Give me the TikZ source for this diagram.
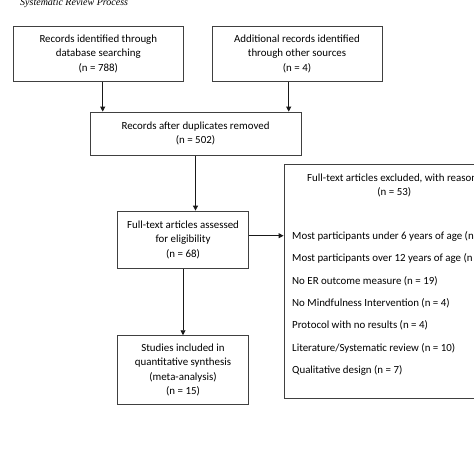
\documentclass[tikz,border=0pt]{standalone}
\usepackage{fontspec}
\setmainfont{Carlito}
\newfontfamily\titlefont{Liberation Serif}
\usetikzlibrary{arrows.meta}
\tikzset{
  box/.style={draw=black!75, line width=0.9pt, align=center, inner sep=0pt,
    font=\fontsize{10.9}{14.4}\selectfont},
  conn/.style={draw=black!90, line width=0.9pt, -{Triangle[length=5pt,width=5pt]}},
  plain/.style={inner sep=0pt, font=\fontsize{10.9}{14.4}\selectfont}
}
\begin{document}
\begin{tikzpicture}[x=1pt,y=-1pt]
\useasboundingbox (0,0) rectangle (474,474);
\clip (0,0) rectangle (474,474);
\fill[white] (0,0) rectangle (474,474);
\node[anchor=base west, inner sep=0pt, font=\titlefont\itshape\fontsize{10}{12}\selectfont] (title) at (20,5.8) {Systematic Review Process};

\node[box, minimum width=170pt, minimum height=55.3pt] (b1) at (98.3,53.7)
  {Records identified through\\database searching\\(n = 788)};
\node[box, minimum width=170pt, minimum height=55.3pt] (b2) at (297,53.7)
  {Additional records identified\\through other sources\\(n = 4)};
\node[box, minimum width=211pt, minimum height=43.3pt] (b3) at (195.5,133.7)
  {Records after duplicates removed\\(n = 502)};
\node[box, minimum width=130.6pt, minimum height=57.3pt] (b4) at (183,239.7)
  {Full-text articles assessed\\for eligibility\\(n = 68)};
\node[box, minimum width=130.6pt, minimum height=68.6pt] (b5) at (183,370)
  {Studies included in\\quantitative synthesis\\(meta-analysis)\\(n = 15)};
\node[box, minimum width=220.6pt, minimum height=234.3pt] (ex) at (394.3,281.2) {};
\node[plain, align=center] (exh) at (394.3,185.5)
  {Full-text articles excluded, with reasons\\(n = 53)};
\node[plain, align=left, anchor=north west, font=\fontsize{10.9}{22.28}\selectfont] (exl) at (292,231.5)
  {Most participants under 6 years of age (n\\
   Most participants over 12 years of age (n\\
   No ER outcome measure (n = 19)\\
   No Mindfulness Intervention (n = 4)\\
   Protocol with no results (n = 4)\\
   Literature/Systematic review (n = 10)\\
   Qualitative design (n = 7)};

\draw[conn] ([xshift=4.4pt]b1.south) -- ([xshift=4.4pt]b1.south |- b3.north);
\draw[conn] ([xshift=-8.3pt]b2.south) -- ([xshift=-8.3pt]b2.south |- b3.north);
\draw[conn] (b3.south) -- (b3.south |- b4.north);
\draw[conn] ([yshift=4pt]b4.east) -- ([yshift=4pt]b4.east -| ex.west);
\draw[conn] (b4.south) -- (b5.north);
\end{tikzpicture}
\end{document}
